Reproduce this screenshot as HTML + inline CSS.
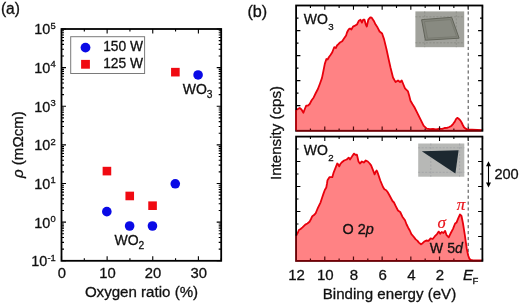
<!DOCTYPE html>
<html lang="en"><head><meta charset="utf-8"><title>Figure</title>
<style>
html,body{margin:0;padding:0;background:#fff;}
body{width:520px;height:305px;overflow:hidden;}
svg{display:block;}
svg text{font-family:"Liberation Sans",sans-serif;fill:#111;stroke:#111;stroke-width:0.3px;}
.it{font-style:italic;}
svg text.ser{font-family:"Liberation Serif","DejaVu Serif",serif;}
.red{fill:#e8141c;stroke:#e8141c;stroke-width:0.2px;}
</style></head><body>
<svg width="520" height="305" viewBox="0 0 520 305">
<rect width="520" height="305" fill="#fff"/>
<g id="panel-a">
<path d="M61.50 260.8v-4.5M61.50 29.0v4.5M84.31 260.8v-2.5M84.31 29.0v2.5M107.13 260.8v-4.5M107.13 29.0v4.5M129.94 260.8v-2.5M129.94 29.0v2.5M152.76 260.8v-4.5M152.76 29.0v4.5M175.57 260.8v-2.5M175.57 29.0v2.5M198.39 260.8v-4.5M198.39 29.0v4.5M221.20 260.8v-2.5M221.20 29.0v2.5M61.5 260.80h4.5M221.2 260.80h-4.5M61.5 249.17h2.5M221.2 249.17h-2.5M61.5 242.37h2.5M221.2 242.37h-2.5M61.5 237.54h2.5M221.2 237.54h-2.5M61.5 233.80h2.5M221.2 233.80h-2.5M61.5 230.74h2.5M221.2 230.74h-2.5M61.5 228.15h2.5M221.2 228.15h-2.5M61.5 225.91h2.5M221.2 225.91h-2.5M61.5 223.93h2.5M221.2 223.93h-2.5M61.5 222.17h4.5M221.2 222.17h-4.5M61.5 210.54h2.5M221.2 210.54h-2.5M61.5 203.73h2.5M221.2 203.73h-2.5M61.5 198.91h2.5M221.2 198.91h-2.5M61.5 195.16h2.5M221.2 195.16h-2.5M61.5 192.10h2.5M221.2 192.10h-2.5M61.5 189.52h2.5M221.2 189.52h-2.5M61.5 187.28h2.5M221.2 187.28h-2.5M61.5 185.30h2.5M221.2 185.30h-2.5M61.5 183.53h4.5M221.2 183.53h-4.5M61.5 171.90h2.5M221.2 171.90h-2.5M61.5 165.10h2.5M221.2 165.10h-2.5M61.5 160.27h2.5M221.2 160.27h-2.5M61.5 156.53h2.5M221.2 156.53h-2.5M61.5 153.47h2.5M221.2 153.47h-2.5M61.5 150.88h2.5M221.2 150.88h-2.5M61.5 148.64h2.5M221.2 148.64h-2.5M61.5 146.67h2.5M221.2 146.67h-2.5M61.5 144.90h4.5M221.2 144.90h-4.5M61.5 133.27h2.5M221.2 133.27h-2.5M61.5 126.47h2.5M221.2 126.47h-2.5M61.5 121.64h2.5M221.2 121.64h-2.5M61.5 117.90h2.5M221.2 117.90h-2.5M61.5 114.84h2.5M221.2 114.84h-2.5M61.5 112.25h2.5M221.2 112.25h-2.5M61.5 110.01h2.5M221.2 110.01h-2.5M61.5 108.03h2.5M221.2 108.03h-2.5M61.5 106.27h4.5M221.2 106.27h-4.5M61.5 94.64h2.5M221.2 94.64h-2.5M61.5 87.83h2.5M221.2 87.83h-2.5M61.5 83.01h2.5M221.2 83.01h-2.5M61.5 79.26h2.5M221.2 79.26h-2.5M61.5 76.20h2.5M221.2 76.20h-2.5M61.5 73.62h2.5M221.2 73.62h-2.5M61.5 71.38h2.5M221.2 71.38h-2.5M61.5 69.40h2.5M221.2 69.40h-2.5M61.5 67.63h4.5M221.2 67.63h-4.5M61.5 56.00h2.5M221.2 56.00h-2.5M61.5 49.20h2.5M221.2 49.20h-2.5M61.5 44.37h2.5M221.2 44.37h-2.5M61.5 40.63h2.5M221.2 40.63h-2.5M61.5 37.57h2.5M221.2 37.57h-2.5M61.5 34.98h2.5M221.2 34.98h-2.5M61.5 32.74h2.5M221.2 32.74h-2.5M61.5 30.77h2.5M221.2 30.77h-2.5M61.5 29.00h4.5M221.2 29.00h-4.5" stroke="#000" stroke-width="1.1" fill="none"/>
<rect x="61.5" y="29.0" width="159.7" height="231.8" fill="none" stroke="#000" stroke-width="1.8"/>
<text x="55.8" y="266.2" font-size="14.4" text-anchor="end">10<tspan dy="-5.7" dx="0.3" font-size="9.4">-1</tspan></text>
<text x="55.8" y="227.6" font-size="14.4" text-anchor="end">10<tspan dy="-5.7" dx="0.3" font-size="9.4">0</tspan></text>
<text x="55.8" y="188.9" font-size="14.4" text-anchor="end">10<tspan dy="-5.7" dx="0.3" font-size="9.4">1</tspan></text>
<text x="55.8" y="150.3" font-size="14.4" text-anchor="end">10<tspan dy="-5.7" dx="0.3" font-size="9.4">2</tspan></text>
<text x="55.8" y="111.7" font-size="14.4" text-anchor="end">10<tspan dy="-5.7" dx="0.3" font-size="9.4">3</tspan></text>
<text x="55.8" y="73.0" font-size="14.4" text-anchor="end">10<tspan dy="-5.7" dx="0.3" font-size="9.4">4</tspan></text>
<text x="55.8" y="34.4" font-size="14.4" text-anchor="end">10<tspan dy="-5.7" dx="0.3" font-size="9.4">5</tspan></text>
<text x="61.8" y="278.4" font-size="14.8" text-anchor="middle">0</text><text x="107.4" y="278.4" font-size="14.8" text-anchor="middle">10</text><text x="153.1" y="278.4" font-size="14.8" text-anchor="middle">20</text><text x="198.7" y="278.4" font-size="14.8" text-anchor="middle">30</text>
<text x="141.5" y="297" font-size="15.1" text-anchor="middle">Oxygen ratio (%)</text>
<text transform="translate(22.6 144.6) rotate(-90)" font-size="15.1" text-anchor="middle"><tspan class="it">ρ</tspan> (mΩcm)</text>
<text x="0.9" y="14" font-size="15.6">(a)</text>
<rect x="70.7" y="36.7" width="73.9" height="36.8" fill="#fff" stroke="#7a7a7a" stroke-width="1"/>
<circle cx="85.5" cy="47.6" r="4.9" fill="#0a0ae6"/><rect x="81.1" y="59.9" width="8.8" height="8.8" fill="#f00a12"/>
<text x="103.2" y="51.2" font-size="13.8">150 W</text><text x="103.2" y="68.1" font-size="13.8">125 W</text>
<rect x="102.63" y="166.80" width="8.6" height="8.6" fill="#f00a12"/><rect x="125.44" y="191.66" width="8.6" height="8.6" fill="#f00a12"/><rect x="148.26" y="201.39" width="8.6" height="8.6" fill="#f00a12"/><rect x="171.07" y="67.86" width="8.6" height="8.6" fill="#f00a12"/><circle cx="106.83" cy="211.64" r="4.8" fill="#0a0ae6"/><circle cx="129.64" cy="225.99" r="4.8" fill="#0a0ae6"/><circle cx="152.46" cy="225.99" r="4.8" fill="#0a0ae6"/><circle cx="175.27" cy="183.81" r="4.8" fill="#0a0ae6"/><circle cx="198.09" cy="74.96" r="4.8" fill="#0a0ae6"/>
<text x="182.8" y="93.8" font-size="14">WO<tspan dy="4" dx="-0.2" font-size="10.2">3</tspan></text>
<text x="114.5" y="245.0" font-size="14">WO<tspan dy="4" dx="-0.2" font-size="10.2">2</tspan></text>
</g>
<g id="panel-b">
<path d="M482.54 130.8v-2.4M482.54 5.5v2.4M468.20 130.8v-4.3M468.20 5.5v4.3M453.86 130.8v-2.4M453.86 5.5v2.4M439.52 130.8v-4.3M439.52 5.5v4.3M425.17 130.8v-2.4M425.17 5.5v2.4M410.83 130.8v-4.3M410.83 5.5v4.3M396.49 130.8v-2.4M396.49 5.5v2.4M382.15 130.8v-4.3M382.15 5.5v4.3M367.81 130.8v-2.4M367.81 5.5v2.4M353.47 130.8v-4.3M353.47 5.5v4.3M339.12 130.8v-2.4M339.12 5.5v2.4M324.78 130.8v-4.3M324.78 5.5v4.3M310.44 130.8v-2.4M310.44 5.5v2.4M296.1 118.10h2.4M482.4 118.10h-2.4M296.1 105.60h4.3M482.4 105.60h-4.3M296.1 93.10h2.4M482.4 93.10h-2.4M296.1 80.60h4.3M482.4 80.60h-4.3M296.1 68.10h2.4M482.4 68.10h-2.4M296.1 55.60h4.3M482.4 55.60h-4.3M296.1 43.10h2.4M482.4 43.10h-2.4M296.1 30.60h4.3M482.4 30.60h-4.3M296.1 18.10h2.4M482.4 18.10h-2.4M482.54 260.9v-2.4M482.54 136.6v2.4M468.20 260.9v-4.3M468.20 136.6v4.3M453.86 260.9v-2.4M453.86 136.6v2.4M439.52 260.9v-4.3M439.52 136.6v4.3M425.17 260.9v-2.4M425.17 136.6v2.4M410.83 260.9v-4.3M410.83 136.6v4.3M396.49 260.9v-2.4M396.49 136.6v2.4M382.15 260.9v-4.3M382.15 136.6v4.3M367.81 260.9v-2.4M367.81 136.6v2.4M353.47 260.9v-4.3M353.47 136.6v4.3M339.12 260.9v-2.4M339.12 136.6v2.4M324.78 260.9v-4.3M324.78 136.6v4.3M310.44 260.9v-2.4M310.44 136.6v2.4M296.1 249.00h2.4M482.4 249.00h-2.4M296.1 236.50h4.3M482.4 236.50h-4.3M296.1 224.00h2.4M482.4 224.00h-2.4M296.1 211.50h4.3M482.4 211.50h-4.3M296.1 199.00h2.4M482.4 199.00h-2.4M296.1 186.50h4.3M482.4 186.50h-4.3M296.1 174.00h2.4M482.4 174.00h-2.4M296.1 161.50h4.3M482.4 161.50h-4.3M296.1 149.00h2.4M482.4 149.00h-2.4" stroke="#000" stroke-width="1.1" fill="none"/>
<g id="inset1"><rect x="415.4" y="11.4" width="48.8" height="35.8" fill="#a1a29c"/><path d="M415.4 42.8H464.2M415.4 16.8H464.2M424.7 11.4V47.2M456.3 11.4V47.2" stroke="#858780" stroke-width="0.7" stroke-dasharray="2 1.5" fill="none"/><path d="M421.6 19.7L451.7 17.3L459.1 38.2L425.4 40.2Z" fill="#83857c" stroke="#62645a" stroke-width="1" stroke-linejoin="round"/><path d="M424.4 21.6L450.6 19.6L456.6 36.6L427.6 38.2Z" fill="#888a81" stroke="#74766c" stroke-width="0.7" stroke-linejoin="round"/></g>
<g id="inset2"><rect x="418.2" y="143.5" width="46.1" height="33.2" fill="#b7b8b6"/><path d="M418.2 147.8H464.3M418.2 172.3H464.3M430.8 143.5V176.7M459.6 143.5V176.7" stroke="#9c9ea2" stroke-width="0.7" stroke-dasharray="2 1.5" fill="none"/><path d="M421.8 151.2L458.6 150.2L455.4 173.6Z" fill="#1c2830"/></g>
<path d="M468.2 5.5V130.8M468.2 136.6V260.9" stroke="#444" stroke-width="1" stroke-dasharray="3.2 2.7" fill="none"/>
<path d="M296.1 130.8 L296.1 110.0 L299.7 108.0 L301.5 109.5 L303.4 112.7 L304.8 109.0 L306.2 105.7 L308.0 105.5 L309.5 104.3 L311.5 100.5 L313.7 97.4 L315.8 93.0 L317.9 89.0 L320.0 83.5 L322.0 77.9 L323.4 71.0 L324.8 63.9 L326.4 59.0 L327.6 59.5 L329.0 57.0 L330.5 55.0 L332.3 52.2 L333.3 49.5 L334.3 47.2 L335.8 48.0 L337.0 45.5 L338.2 44.3 L340.0 42.5 L342.2 41.3 L344.0 38.5 L346.1 35.4 L347.0 32.5 L348.0 30.5 L349.0 29.0 L350.0 28.5 L351.4 29.5 L353.0 26.6 L355.0 25.6 L357.0 24.5 L358.9 20.7 L360.5 19.7 L361.9 22.6 L363.2 19.7 L364.5 19.7 L365.8 24.6 L366.8 26.5 L368.3 19.7 L370.3 17.3 L371.7 17.7 L373.7 20.7 L375.6 24.6 L377.6 27.6 L379.6 31.5 L382.1 33.5 L384.1 39.4 L386.5 49.2 L388.6 59.0 L390.5 67.5 L393.0 77.5 L394.4 80.0 L395.6 82.0 L398.0 80.5 L400.0 82.0 L401.8 80.5 L403.4 84.5 L405.0 88.3 L408.0 91.4 L409.3 96.0 L410.5 100.7 L412.4 104.0 L414.3 107.0 L417.4 113.2 L420.5 119.4 L423.6 125.7 L426.7 128.6 L430.0 129.2 L433.0 129.0 L436.0 129.4 L439.0 128.8 L442.3 128.9 L444.5 128.0 L447.0 127.8 L449.3 127.0 L451.6 125.7 L453.2 123.8 L454.8 121.6 L456.0 119.2 L457.3 117.9 L458.4 118.5 L459.4 119.4 L460.5 120.6 L461.6 122.5 L462.8 125.0 L464.0 127.2 L465.6 128.6 L467.2 129.4 L472.0 129.6 L482.4 130.2 L482.4 130.8Z" fill="#ff8284"/>
<path d="M296.1 110.0 L299.7 108.0 L301.5 109.5 L303.4 112.7 L304.8 109.0 L306.2 105.7 L308.0 105.5 L309.5 104.3 L311.5 100.5 L313.7 97.4 L315.8 93.0 L317.9 89.0 L320.0 83.5 L322.0 77.9 L323.4 71.0 L324.8 63.9 L326.4 59.0 L327.6 59.5 L329.0 57.0 L330.5 55.0 L332.3 52.2 L333.3 49.5 L334.3 47.2 L335.8 48.0 L337.0 45.5 L338.2 44.3 L340.0 42.5 L342.2 41.3 L344.0 38.5 L346.1 35.4 L347.0 32.5 L348.0 30.5 L349.0 29.0 L350.0 28.5 L351.4 29.5 L353.0 26.6 L355.0 25.6 L357.0 24.5 L358.9 20.7 L360.5 19.7 L361.9 22.6 L363.2 19.7 L364.5 19.7 L365.8 24.6 L366.8 26.5 L368.3 19.7 L370.3 17.3 L371.7 17.7 L373.7 20.7 L375.6 24.6 L377.6 27.6 L379.6 31.5 L382.1 33.5 L384.1 39.4 L386.5 49.2 L388.6 59.0 L390.5 67.5 L393.0 77.5 L394.4 80.0 L395.6 82.0 L398.0 80.5 L400.0 82.0 L401.8 80.5 L403.4 84.5 L405.0 88.3 L408.0 91.4 L409.3 96.0 L410.5 100.7 L412.4 104.0 L414.3 107.0 L417.4 113.2 L420.5 119.4 L423.6 125.7 L426.7 128.6 L430.0 129.2 L433.0 129.0 L436.0 129.4 L439.0 128.8 L442.3 128.9 L444.5 128.0 L447.0 127.8 L449.3 127.0 L451.6 125.7 L453.2 123.8 L454.8 121.6 L456.0 119.2 L457.3 117.9 L458.4 118.5 L459.4 119.4 L460.5 120.6 L461.6 122.5 L462.8 125.0 L464.0 127.2 L465.6 128.6 L467.2 129.4 L472.0 129.6 L482.4 130.2" fill="none" stroke="#e8000c" stroke-width="1.8" stroke-linejoin="round"/>
<path d="M296.1 260.9 L296.1 235.7 L297.9 232.5 L298.9 230.0 L300.6 229.0 L302.5 227.4 L305.3 224.6 L307.4 223.5 L309.5 221.8 L311.0 219.0 L312.3 216.2 L314.0 215.0 L315.6 213.4 L316.8 210.5 L317.9 207.9 L320.6 202.3 L322.0 198.0 L323.4 193.9 L324.8 190.0 L326.3 187.5 L327.0 183.5 L327.5 180.2 L329.4 177.2 L332.3 177.2 L333.7 172.3 L335.7 167.4 L337.2 163.5 L338.2 164.5 L339.2 166.4 L340.4 164.0 L341.6 162.5 L344.1 160.5 L346.7 159.5 L348.7 157.6 L350.0 159.5 L351.0 158.0 L352.0 156.6 L354.0 153.6 L355.4 154.8 L356.9 154.6 L357.7 158.0 L358.5 161.5 L359.9 163.5 L361.9 161.5 L363.8 162.5 L365.8 160.5 L367.8 161.5 L369.7 163.5 L371.1 165.4 L372.7 169.4 L374.6 174.3 L375.6 172.0 L376.6 170.4 L377.4 172.0 L378.2 174.3 L380.3 180.5 L383.0 187.0 L384.4 189.3 L386.2 190.2 L387.6 192.0 L389.3 195.0 L392.5 201.0 L394.0 202.5 L395.6 205.8 L398.0 210.5 L400.2 212.0 L402.4 216.7 L405.0 220.3 L406.6 224.5 L408.2 227.7 L409.8 230.5 L411.4 234.1 L413.5 236.5 L415.7 239.4 L417.3 240.6 L418.9 242.6 L421.0 244.3 L422.6 243.2 L424.2 241.6 L426.3 240.5 L428.5 240.9 L430.6 238.4 L432.7 239.0 L434.9 236.2 L437.0 234.1 L438.7 231.6 L440.2 233.7 L441.7 232.0 L443.4 233.0 L445.1 230.9 L446.6 235.2 L448.7 237.3 L450.8 233.0 L453.0 228.8 L455.1 223.5 L456.6 222.4 L458.3 218.1 L460.0 214.5 L461.5 216.0 L463.0 223.5 L464.7 234.1 L466.8 249.0 L468.2 255.5 L469.4 258.8 L471.0 260.0 L473.0 260.3 L482.4 260.4 L482.4 260.9Z" fill="#ff8284"/>
<path d="M296.1 235.7 L297.9 232.5 L298.9 230.0 L300.6 229.0 L302.5 227.4 L305.3 224.6 L307.4 223.5 L309.5 221.8 L311.0 219.0 L312.3 216.2 L314.0 215.0 L315.6 213.4 L316.8 210.5 L317.9 207.9 L320.6 202.3 L322.0 198.0 L323.4 193.9 L324.8 190.0 L326.3 187.5 L327.0 183.5 L327.5 180.2 L329.4 177.2 L332.3 177.2 L333.7 172.3 L335.7 167.4 L337.2 163.5 L338.2 164.5 L339.2 166.4 L340.4 164.0 L341.6 162.5 L344.1 160.5 L346.7 159.5 L348.7 157.6 L350.0 159.5 L351.0 158.0 L352.0 156.6 L354.0 153.6 L355.4 154.8 L356.9 154.6 L357.7 158.0 L358.5 161.5 L359.9 163.5 L361.9 161.5 L363.8 162.5 L365.8 160.5 L367.8 161.5 L369.7 163.5 L371.1 165.4 L372.7 169.4 L374.6 174.3 L375.6 172.0 L376.6 170.4 L377.4 172.0 L378.2 174.3 L380.3 180.5 L383.0 187.0 L384.4 189.3 L386.2 190.2 L387.6 192.0 L389.3 195.0 L392.5 201.0 L394.0 202.5 L395.6 205.8 L398.0 210.5 L400.2 212.0 L402.4 216.7 L405.0 220.3 L406.6 224.5 L408.2 227.7 L409.8 230.5 L411.4 234.1 L413.5 236.5 L415.7 239.4 L417.3 240.6 L418.9 242.6 L421.0 244.3 L422.6 243.2 L424.2 241.6 L426.3 240.5 L428.5 240.9 L430.6 238.4 L432.7 239.0 L434.9 236.2 L437.0 234.1 L438.7 231.6 L440.2 233.7 L441.7 232.0 L443.4 233.0 L445.1 230.9 L446.6 235.2 L448.7 237.3 L450.8 233.0 L453.0 228.8 L455.1 223.5 L456.6 222.4 L458.3 218.1 L460.0 214.5 L461.5 216.0 L463.0 223.5 L464.7 234.1 L466.8 249.0 L468.2 255.5 L469.4 258.8 L471.0 260.0 L473.0 260.3 L482.4 260.4" fill="none" stroke="#e8000c" stroke-width="1.8" stroke-linejoin="round"/>
<path d="M453.86 130.8v-2.4M439.52 130.8v-4.3M425.17 130.8v-2.4M410.83 130.8v-4.3M396.49 130.8v-2.4M382.15 130.8v-4.3M367.81 130.8v-2.4M353.47 130.8v-4.3M339.12 130.8v-2.4M324.78 130.8v-4.3M310.44 130.8v-2.4M453.86 260.9v-2.4M439.52 260.9v-4.3M425.17 260.9v-2.4M410.83 260.9v-4.3M396.49 260.9v-2.4M382.15 260.9v-4.3M367.81 260.9v-2.4M353.47 260.9v-4.3M339.12 260.9v-2.4M324.78 260.9v-4.3M310.44 260.9v-2.4" stroke="#3a0004" stroke-width="1.2" fill="none" opacity="0.9"/>
<rect x="296.1" y="5.5" width="186.3" height="125.3" fill="none" stroke="#000" stroke-width="1.8"/>
<rect x="296.1" y="136.6" width="186.3" height="124.3" fill="none" stroke="#000" stroke-width="1.8"/>
<path d="M296.1 130.8H481.4M296.1 235.7V260.9H481.4" fill="none" stroke="#e8000c" stroke-width="1.7" opacity="0.5"/>
<path d="M296.1 110.0V130.3" fill="none" stroke="#e8000c" stroke-width="1.7" opacity="0.85"/>
<text x="296.6" y="280" font-size="15" text-anchor="middle">12</text><text x="325.3" y="280" font-size="15" text-anchor="middle">10</text><text x="354.0" y="280" font-size="15" text-anchor="middle">8</text><text x="382.6" y="280" font-size="15" text-anchor="middle">6</text><text x="411.3" y="280" font-size="15" text-anchor="middle">4</text><text x="440.0" y="280" font-size="15" text-anchor="middle">2</text>
<text x="463.1" y="280" font-size="15" class="it">E</text><text x="472.5" y="283.6" font-size="9.6">F</text>
<text x="389.5" y="299.4" font-size="15.1" text-anchor="middle">Binding energy (eV)</text>
<text transform="translate(280.5 133) rotate(-90)" font-size="15.1" text-anchor="middle">Intensity (cps)</text>
<text x="247.4" y="16.5" font-size="16.2">(b)</text>
<text x="303.7" y="24.3" font-size="14">WO<tspan dy="6" dx="0.4" font-size="9.7">3</tspan></text>
<text x="303.7" y="155.3" font-size="14">WO<tspan dy="6" dx="0.4" font-size="9.7">2</tspan></text>
<text x="342.6" y="233.6" font-size="14.4">O 2<tspan class="it">p</tspan></text>
<text x="429.8" y="253.4" font-size="14.2">W 5<tspan class="it">d</tspan></text>
<text x="441.6" y="227.9" font-size="17" text-anchor="middle" class="it red ser">σ</text><text x="461" y="209.6" font-size="17" text-anchor="middle" class="it red ser">π</text>
<path d="M488.5 163V186" stroke="#000" stroke-width="1.1" fill="none"/><path d="M488.5 161.2L491 166.2H486ZM488.5 187.6L491 182.6H486Z" fill="#000"/>
<text x="494.4" y="179" font-size="14.6">200</text>
</g>
</svg>
</body></html>
